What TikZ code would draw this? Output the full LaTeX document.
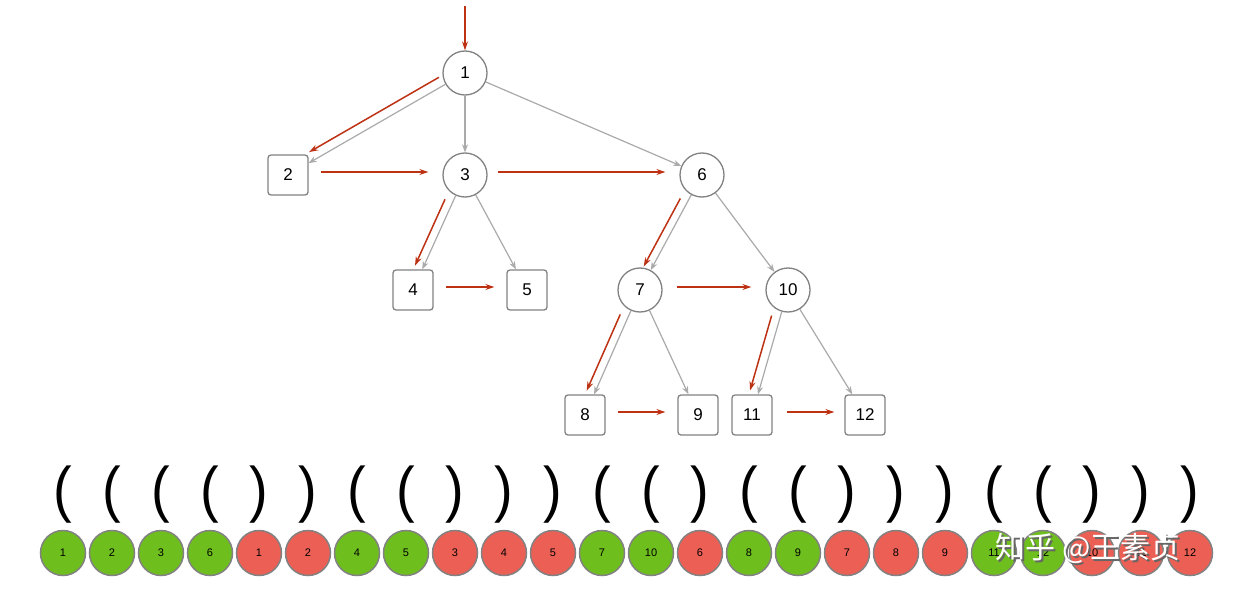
\documentclass[tikz,border=0pt]{standalone}
\usepackage{fontspec}
\setmainfont{Liberation Sans}
\newfontfamily\cjk{Noto Sans CJK SC}
\newfontfamily\parfont{DejaVu Sans ExtraLight}
\usetikzlibrary{arrows.meta,calc}
\definecolor{rd}{RGB}{190,50,20}
\definecolor{gr}{RGB}{170,170,170}
\definecolor{gfill}{RGB}{110,190,30}
\definecolor{rfill}{RGB}{235,95,85}
\definecolor{bd}{RGB}{130,130,130}
\tikzset{
 cn/.style={circle,draw=bd,line width=1.3pt,minimum size=44pt,inner sep=0pt,font=\fontsize{17}{17}\selectfont},
 sq/.style={rectangle,rounded corners=3pt,draw=bd,line width=1.3pt,minimum size=40pt,inner sep=0pt,font=\fontsize{17}{17}\selectfont},
 ge/.style={gr,line width=1.2pt,-{Stealth[length=8pt,width=6pt]}},
 re/.style={rd,line width=1.5pt,-{Stealth[length=9pt,width=6pt]}},
 pe/.style={re,shorten <=4pt,shorten >=4pt},
 ball/.style={circle,draw=bd,line width=1.5pt,minimum size=45pt,inner sep=0pt,font=\fontsize{11}{11}\selectfont},
 par/.style={font=\fontsize{56}{56}\selectfont,yscale=1.1}
}
\begin{document}
\begin{tikzpicture}[x=1pt,y=-1pt]
\useasboundingbox[fill=white] (0,0) rectangle (1237,599);
\node[cn] (n1) at (465,73) {1};
\node[sq] (n2) at (288,175) {2};
\node[cn] (n3) at (465,175) {3};
\node[cn] (n6) at (702,175) {6};
\node[sq] (n4) at (413,290) {4};
\node[sq] (n5) at (527,290) {5};
\node[cn] (n7) at (640,290) {7};
\node[cn] (n10) at (788,290) {10};
\node[sq] (n8) at (585,415) {8};
\node[sq] (n9) at (698,415) {9};
\node[sq] (n11) at (752,415) {11};
\node[sq] (n12) at (865,415) {12};
\foreach \a/\b in {n1/n2,n1/n3,n1/n6,n3/n4,n3/n5,n6/n7,n6/n10,n7/n8,n7/n9,n10/n11,n10/n12}
  \draw[ge] (\a) -- (\b);
\coordinate (t0) at (465,6);
\draw[re] (t0) -- (n1);
\draw[pe,transform canvas={xshift=-3pt,yshift=9pt}] (n1) -- (n2);
\draw[pe,transform canvas={xshift=-9pt}] (n3) -- (n4);
\draw[pe,transform canvas={xshift=-9pt}] (n6) -- (n7);
\draw[pe,transform canvas={xshift=-9pt}] (n7) -- (n8);
\draw[pe,transform canvas={xshift=-9pt}] (n10) -- (n11);
\foreach \a/\b/\s/\e in {n2/n3/12/14,n3/n6/10/14,n4/n5/12/12,n7/n10/14/14,n8/n9/12/12,n11/n12/14/10}
  \draw[re] ($(\a.east)+(\s,-3)$) -- ($(\b.west)+(-\e,-3)$);
\foreach \p/\l/\c [count=\i from 0] in {o/1/g,o/2/g,o/3/g,o/6/g,c/1/r,c/2/r,o/4/g,o/5/g,c/3/r,c/4/r,c/5/r,o/7/g,o/10/g,c/6/r,o/8/g,o/9/g,c/7/r,c/8/r,c/9/r,o/11/g,o/12/g,c/10/r,c/11/r,c/12/r}{
  \node[par] (p\i) at ({63+49*\i},495) {\if o\p(\else)\fi};
  \node[ball,fill=\c fill] (b\i) at ({63+49*\i},553) {\l};
}
\node[text=black!60,font=\cjk\fontsize{30}{30}\selectfont] at (1090,550) {知乎 @王素贞};
\node[text=white,font=\cjk\fontsize{30}{30}\selectfont] (wm) at (1088,548) {知乎 @王素贞};
\end{tikzpicture}
\end{document}
